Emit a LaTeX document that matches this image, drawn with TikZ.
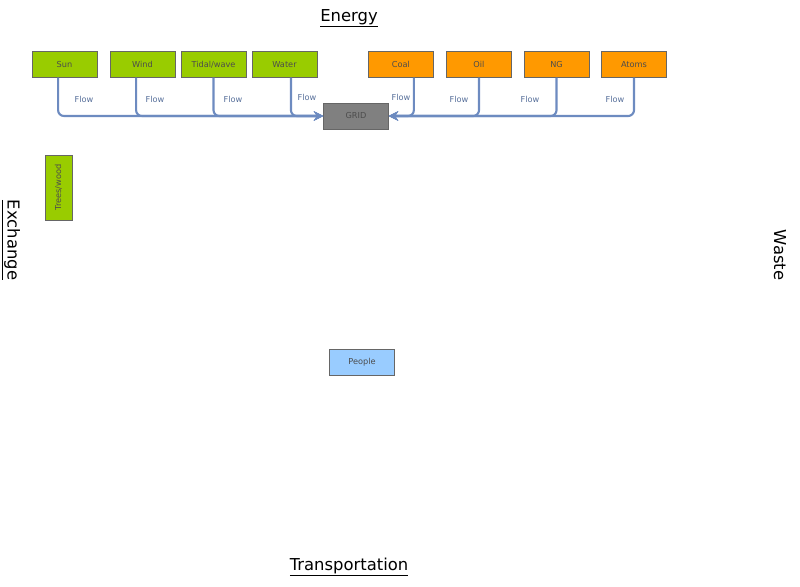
\documentclass[tikz,border=0pt]{standalone}
\usepackage{fontspec}
\setmainfont{DejaVu Sans}
\usetikzlibrary{arrows.meta}
\definecolor{leaf}{HTML}{99CC00}
\definecolor{fuel}{HTML}{FF9900}
\definecolor{grid}{HTML}{808080}
\definecolor{sky}{HTML}{99CCFF}
\definecolor{flowline}{HTML}{6D8BC0}
\tikzstyle{green} = [rectangle, draw=black!60, fill=leaf, minimum width=1.95cm, minimum height=0.78cm, font=\fontsize{7}{8}\selectfont, text=black!70]
\tikzstyle{orange} = [green, fill=fuel]
\tikzstyle{line} = [draw=flowline, line width=1.8pt, rounded corners=5pt, -{Stealth[length=8pt,width=8pt]}]
\tikzstyle{lbl} = [font=\fontsize{7}{8}\selectfont, text=flowline!80!black]
\tikzstyle{title} = [font=\fontsize{14}{16}\selectfont]

\begin{document}
\begin{tikzpicture}[x=0.03cm,y=-0.03cm]
      \useasboundingbox (0,0) rectangle (800,587);
      % sources
      \node [green] (sun) at (64.5,64.5) {Sun};
      \node [green] (wind) at (142.5,64.5) {Wind};
      \node [green] (tidal) at (213.5,64.5) {Tidal/wave};
      \node [green] (water) at (284.5,64.5) {Water};
      \node [orange] (coal) at (401,64.5) {Coal};
      \node [orange] (oil) at (479,64.5) {Oil};
      \node [orange] (ng) at (556.5,64.5) {NG};
      \node [orange] (atoms) at (634,64.5) {Atoms};
      \node [green, fill=grid] (grid) at (356,116) {GRID};
      \node [green, rotate=90, minimum height=0.81cm] (trees) at (58.5,187.5) {Trees/wood};
      \node [green, fill=sky] (people) at (362,362) {People};

      % titles
      \node [title] (energy) at (349,18) {\underline{Energy}};
      \node [title] (transport) at (349,567) {\underline{Transportation}};
      \node [title, rotate=-90] (waste) at (780,255) {Waste};
      \node [title, rotate=-90] (exchange) at (11,240) {\underline{Exchange}};

      % flows
      \path [line] ([xshift=-5.5pt]sun.south) |- (grid.west);
      \path [line] ([xshift=-5.5pt]wind.south) |- (grid.west);
      \path [line] (tidal.south) |- (grid.west);
      \path [line] ([xshift=5.5pt]water.south) |- (grid.west);
      \path [line] ([xshift=11pt]coal.south) |- (grid.east);
      \path [line] (oil.south) |- (grid.east);
      \path [line] (ng.south) |- (grid.east);
      \path [line] (atoms.south) |- (grid.east);

      \node [lbl] (f1) at (84,99) {Flow};
      \node [lbl] (f2) at (155,99) {Flow};
      \node [lbl] (f3) at (233,99) {Flow};
      \node [lbl] (f4) at (307,97) {Flow};
      \node [lbl] (f5) at (401,97) {Flow};
      \node [lbl] (f6) at (459,99) {Flow};
      \node [lbl] (f7) at (530,99) {Flow};
      \node [lbl] (f8) at (615,99) {Flow};
\end{tikzpicture}
\end{document}
